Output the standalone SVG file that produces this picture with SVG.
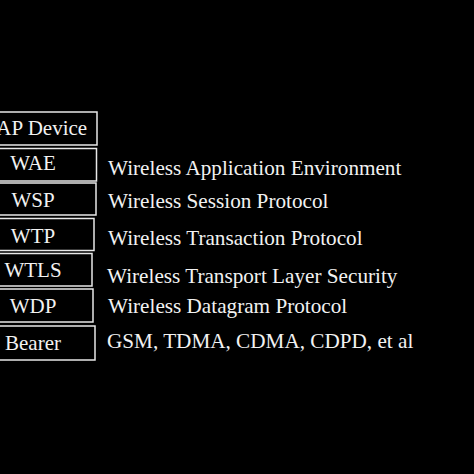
<svg xmlns="http://www.w3.org/2000/svg" width="474" height="474" viewBox="0 0 474 474">
<style>
.box{fill:#000;stroke:#e8e8e8;stroke-width:1.5}
.lbl{font-family:"Liberation Serif","Times New Roman",serif;font-size:21px;fill:#f2f2f2;text-anchor:middle}
.desc{font-family:"Liberation Serif","Times New Roman",serif;font-size:21.2px;fill:#f2f2f2}
</style>
<rect x="0" y="0" width="474" height="474" fill="#000"/>
<g id="wap-device"><rect class="box" x="-20" y="112" width="117" height="33"/><text class="lbl" x="33" y="135">WAP Device</text></g>
<g id="wae"><rect class="box" x="-20" y="148.5" width="116.5" height="32.5"/><text class="lbl" x="33" y="170">WAE</text><text class="desc" x="108" y="175">Wireless Application Environment</text></g>
<g id="wsp"><rect class="box" x="-20" y="183" width="116" height="32"/><text class="lbl" x="33" y="207">WSP</text><text class="desc" x="108" y="208">Wireless Session Protocol</text></g>
<g id="wtp"><rect class="box" x="-20" y="218.5" width="114" height="32"/><text class="lbl" x="33" y="243">WTP</text><text class="desc" x="108" y="245">Wireless Transaction Protocol</text></g>
<g id="wtls"><rect class="box" x="-20" y="253.5" width="112" height="32.5"/><text class="lbl" x="33" y="277">WTLS</text><text class="desc" x="107" y="283">Wireless Transport Layer Security</text></g>
<g id="wdp"><rect class="box" x="-20" y="289" width="113" height="33"/><text class="lbl" x="33" y="313">WDP</text><text class="desc" x="108" y="313">Wireless Datagram Protocol</text></g>
<g id="bearer"><rect class="box" x="-20" y="326" width="115" height="34"/><text class="lbl" x="33" y="350">Bearer</text><text class="desc" x="107" y="348">GSM, TDMA, CDMA, CDPD, et al</text></g>
<g id="connectors"></g>
</svg>
